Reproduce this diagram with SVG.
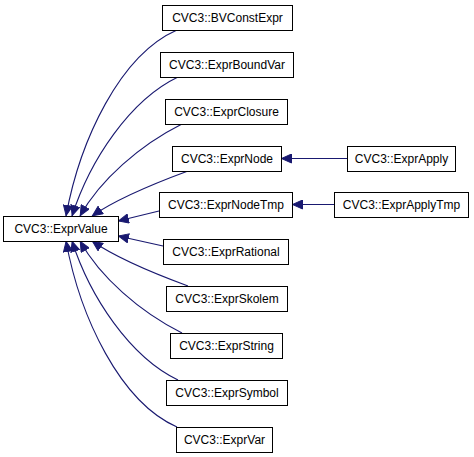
<svg xmlns="http://www.w3.org/2000/svg" width="474" height="457" viewBox="0 0 474 457">
<style>
.node rect{fill:#ffffff;stroke:#000000;stroke-width:1}
.node text{font-family:"Liberation Sans",Arial,sans-serif;font-size:12px;fill:#000000;text-anchor:middle}
.edge{fill:none;stroke:#191970;stroke-width:1.1;marker-end:url(#arr)}
</style>
<defs>
<marker id="arr" viewBox="0 -5 11 10" refX="11" refY="0" markerWidth="11" markerHeight="10" markerUnits="userSpaceOnUse" orient="auto">
<path d="M0.5,-4.5 L10.5,0 L0.5,4.5 Z" fill="#191970" stroke="#191970" stroke-width="1"/>
</marker>
</defs>
<rect width="474" height="457" fill="#ffffff"/>
<g id="connectors">
<path class="edge" d="M177,30 C120,55 80,140 66,216"/>
<path class="edge" d="M178,77 C130,100 90,160 72,216"/>
<path class="edge" d="M182,124 C140,145 100,180 80,216"/>
<path class="edge" d="M188,171 C150,185 115,200 92,216"/>
<path class="edge" d="M159,211 L118,221"/>
<path class="edge" d="M163,246 L118,236"/>
<path class="edge" d="M188,286 C150,272 115,257 92,241"/>
<path class="edge" d="M182,333 C140,312 100,277 80,241"/>
<path class="edge" d="M178,380 C130,357 90,297 72,241"/>
<path class="edge" d="M177,427 C120,402 80,317 66,241"/>
<path class="edge" d="M347,158.5 L281,158.5"/>
<path class="edge" d="M334,204.5 L292,204.5"/>
</g>
<g id="ExprValue" class="node"><rect x="3.5" y="216.5" width="115" height="25"/><text x="61" y="233">CVC3::ExprValue</text></g>
<g id="BVConstExpr" class="node"><rect x="162.5" y="5.5" width="130" height="25"/><text x="227.5" y="22">CVC3::BVConstExpr</text></g>
<g id="ExprBoundVar" class="node"><rect x="160.5" y="52.5" width="133" height="25"/><text x="227" y="69">CVC3::ExprBoundVar</text></g>
<g id="ExprClosure" class="node"><rect x="165.5" y="99.5" width="122" height="25"/><text x="226.5" y="116">CVC3::ExprClosure</text></g>
<g id="ExprNode" class="node"><rect x="172.5" y="146.5" width="109" height="25"/><text x="227" y="163">CVC3::ExprNode</text></g>
<g id="ExprNodeTmp" class="node"><rect x="159.5" y="192.5" width="133" height="25"/><text x="226" y="209">CVC3::ExprNodeTmp</text></g>
<g id="ExprRational" class="node"><rect x="163.5" y="239.5" width="125" height="25"/><text x="226" y="256">CVC3::ExprRational</text></g>
<g id="ExprSkolem" class="node"><rect x="166.5" y="286.5" width="121" height="25"/><text x="227" y="303">CVC3::ExprSkolem</text></g>
<g id="ExprString" class="node"><rect x="170.5" y="333.5" width="112" height="25"/><text x="226.5" y="350">CVC3::ExprString</text></g>
<g id="ExprSymbol" class="node"><rect x="166.5" y="380.5" width="121" height="25"/><text x="227" y="397">CVC3::ExprSymbol</text></g>
<g id="ExprVar" class="node"><rect x="176.5" y="427.5" width="96" height="25"/><text x="224.5" y="444">CVC3::ExprVar</text></g>
<g id="ExprApply" class="node"><rect x="347.5" y="146.5" width="108" height="25"/><text x="401.5" y="163">CVC3::ExprApply</text></g>
<g id="ExprApplyTmp" class="node"><rect x="334.5" y="192.5" width="134" height="25"/><text x="401.5" y="209">CVC3::ExprApplyTmp</text></g>
</svg>
